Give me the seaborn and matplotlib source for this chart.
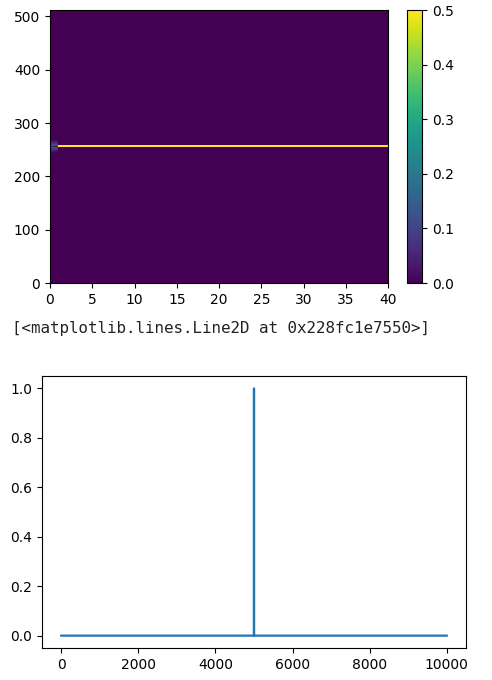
import numpy as np
import pandas as pd
import matplotlib
matplotlib.use("Agg")
import matplotlib.pyplot as plt
import seaborn as sns

# ---- data ----
n_rows = 512
n_cols = 40
line_rows = [255, 256, 257]          # rows carrying the bright line
line_value = 0.5
# column 0: initial spread profile around row 256 (rows 244..268)
start_rows = list(range(244, 269))
start_profile = [0.01, 0.015, 0.02, 0.03, 0.04, 0.05, 0.065, 0.08, 0.095, 0.11, 0.12, 0.13,
                 0.02,
                 0.13, 0.12, 0.11, 0.095, 0.08, 0.065, 0.05, 0.04, 0.03, 0.02, 0.015, 0.01]
x_ticks = [0, 5, 10, 15, 20, 25, 30, 35, 40]
y_ticks = [0, 100, 200, 300, 400, 500]
cbar_ticks = [0.0, 0.1, 0.2, 0.3, 0.4, 0.5]

n_samples = 10001
spike_index = 5000
spike_height = 1.0
line_x_ticks = [0, 2000, 4000, 6000, 8000, 10000]
line_y_ticks = [0.0, 0.2, 0.4, 0.6, 0.8, 1.0]

repr_text = "[<matplotlib.lines.Line2D at 0x228fc1e7550>]"

# ---- build tables ----
H = np.zeros((n_rows, n_cols))
H[line_rows, 1:] = line_value
H[start_rows, 0] = start_profile
heat_df = pd.DataFrame(H)

signal = np.zeros(n_samples)
signal[spike_index] = spike_height
line_df = pd.DataFrame({"t": np.arange(n_samples), "v": signal})

# ---- figure ----
W, Hpx = 492, 680
fig = plt.figure(figsize=(W / 100, Hpx / 100), dpi=100)

def box(l, t, r, b):
    return [l / W, 1 - b / Hpx, (r - l) / W, (b - t) / Hpx]

ax1 = fig.add_axes(box(50, 10, 388, 283))
cax = fig.add_axes(box(407, 10, 422, 283))

sns.heatmap(heat_df, ax=ax1, cbar_ax=cax, cmap="viridis", vmin=0, vmax=0.5,
            xticklabels=False, yticklabels=False)
ax1.set_xlim(0, n_cols)
ax1.set_ylim(0, n_rows)
ax1.set_xticks(x_ticks)
ax1.set_xticklabels([str(v) for v in x_ticks], rotation=0)
ax1.set_yticks(y_ticks)
ax1.set_yticklabels([str(v) for v in y_ticks], rotation=0)
ax1.set_xlabel("")
ax1.set_ylabel("")
ax1.tick_params(length=3.5, width=0.8, labelsize=10)
for s in ax1.spines.values():
    s.set_visible(True)
    s.set_linewidth(0.8)
cb = ax1.collections[0].colorbar
cb.outline.set_visible(True)
cb.outline.set_linewidth(0.8)
cb.set_ticks(cbar_ticks)
cb.set_ticklabels([f"{v:.1f}" for v in cbar_ticks])
cax.tick_params(length=3.5, width=0.8, labelsize=10)

fig.text(12 / W, 1 - 328 / Hpx, repr_text, family="DejaVu Sans Mono",
         fontsize=11.4, va="center", ha="left", color="#222222")

ax2 = fig.add_axes(box(42, 376, 466, 648))
sns.lineplot(data=line_df, x="t", y="v", ax=ax2, color="#1f77b4", linewidth=1.6)
ax2.set_xlim(-500, 10500)
ax2.set_ylim(-0.05, 1.05)
ax2.set_xticks(line_x_ticks)
ax2.set_yticks(line_y_ticks)
ax2.set_xticklabels([str(v) for v in line_x_ticks])
ax2.set_yticklabels([f"{v:.1f}" for v in line_y_ticks])
ax2.set_xlabel("")
ax2.set_ylabel("")
ax2.tick_params(length=3.5, width=0.8, labelsize=10)

fig.savefig("out.png", dpi=100)
